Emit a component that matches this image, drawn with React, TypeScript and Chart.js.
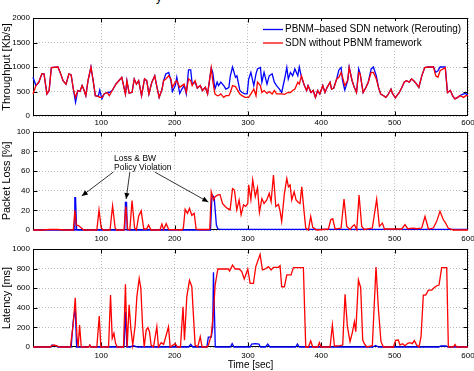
import React, { useEffect, useRef } from "react";
import { Chart, registerables } from "chart.js";

Chart.register(...registerables);

const FONT = "'Liberation Sans', Arial, Helvetica, sans-serif";
Chart.defaults.font.family = FONT;
Chart.defaults.color = "#000";

// ---------- shared data ----------
const timeRange = [7, 600];
const timeTicks = [100, 200, 300, 400, 500, 600];
const timeTitle = "Time [sec]";
const seriesLabels = ["PBNM–based SDN network (Rerouting)", "SDN without PBNM framework"];
const pageTitleTail = "y";

// ---------- panel 1: throughput ----------
const thrTitle = "Throughput [Kb/s]";
const thrTicks = [0, 500, 1000, 1500, 2000];
const thrTime = [
  7, 11, 15, 19, 22, 26, 29, 32, 41, 44,
  48, 52, 56, 59, 62, 65, 68, 71, 74, 76,
  79, 82, 86, 89, 92, 96, 98, 101, 104, 108,
  111, 115, 120, 124, 128, 133, 135, 138, 142, 145,
  148, 151, 155, 159, 162, 165, 169, 173, 176, 179,
  183, 185, 188, 192, 195, 197, 201, 203, 207, 210,
  213, 216, 219, 222, 224, 228, 231, 235, 238, 242,
  245, 250, 252, 255, 258, 260, 263, 267, 270, 274,
  276, 279, 283, 285, 289, 292, 296, 299, 301, 304,
  308, 311, 313, 317, 319, 322, 326, 329, 333, 336,
  339, 343, 346, 350, 353, 355, 358, 361, 364, 368,
  370, 373, 377, 380, 382, 386, 389, 392, 395, 398,
  402, 405, 408, 412, 414, 417, 421, 424, 427, 429,
  432, 436, 438, 442, 445, 448, 451, 453, 457, 461,
  464, 468, 471, 475, 478, 481, 485, 488, 491, 495,
  497, 501, 503, 506, 510, 513, 516, 520, 523, 526,
  530, 533, 537, 541, 546, 553, 556, 559, 562, 569,
  572, 576, 579, 582, 586, 589, 594, 597, 600,
];
const thrBlue = [
  790, 620, 690, 860, 860, 450, 520, 990, 1000, 890,
  720, 650, 860, 840, 550, 280, 520, 500, 620, 550,
  415, 720, 1000, 720, 415, 400, 530, 350, 450, 480,
  480, 520, 650, 720, 790, 450, 720, 470, 480, 755,
  650, 720, 415, 755, 720, 450, 690, 820, 585, 380,
  550, 720, 860, 890, 720, 500, 620, 790, 460, 550,
  620, 450, 940, 940, 650, 690, 570, 620, 520, 585,
  450, 980, 890, 550, 690, 620, 690, 620, 550, 580,
  820, 1000, 790, 820, 520, 480, 450, 450, 750, 890,
  620, 860, 960, 990, 690, 890, 650, 820, 860, 690,
  620, 550, 480, 755, 990, 755, 890, 820, 960, 820,
  1000, 790, 620, 520, 620, 480, 520, 380, 520, 450,
  620, 480, 585, 690, 550, 570, 755, 940, 990, 720,
  530, 720, 1000, 720, 585, 480, 960, 860, 480, 585,
  690, 960, 1000, 820, 585, 450, 415, 380, 435, 550,
  460, 370, 415, 470, 585, 690, 720, 690, 755, 720,
  650, 585, 820, 990, 1000, 1000, 890, 920, 1000, 1000,
  480, 520, 415, 350, 380, 415, 450, 460, 415,
];
const thrRed = [
  450, 620, 690, 860, 860, 450, 520, 990, 1000, 890,
  720, 650, 860, 840, 550, 380, 520, 500, 620, 550,
  415, 720, 1000, 720, 415, 400, 380, 380, 450, 480,
  415, 520, 650, 720, 790, 450, 720, 470, 480, 755,
  650, 720, 415, 755, 720, 450, 690, 820, 585, 380,
  550, 720, 755, 820, 755, 585, 690, 720, 585, 620,
  650, 480, 755, 720, 620, 720, 570, 620, 520, 585,
  450, 980, 720, 450, 415, 415, 450, 380, 415, 415,
  480, 620, 600, 550, 450, 415, 380, 380, 380, 450,
  550, 415, 690, 620, 480, 520, 460, 500, 450, 520,
  450, 450, 450, 440, 470, 480, 480, 520, 550, 690,
  650, 820, 620, 520, 620, 480, 520, 380, 520, 450,
  620, 480, 585, 690, 550, 570, 755, 790, 890, 790,
  620, 730, 990, 720, 585, 480, 890, 860, 480, 585,
  690, 890, 890, 755, 585, 450, 415, 380, 435, 550,
  460, 370, 415, 470, 585, 690, 720, 690, 755, 720,
  650, 585, 820, 990, 1000, 1000, 820, 790, 925, 990,
  480, 520, 415, 350, 380, 415, 380, 415, 415,
];

// ---------- panel 2: packet loss ----------
const lossTitle = "Packet Loss [%]";
const lossTicks = [0, 20, 40, 60, 80, 100];
const lossBlueTime = [7, 63, 64, 65, 66.5, 132, 133, 134.5, 135.5, 249, 251, 254, 257, 259, 262, 600];
const lossBlue = [0, 0, 33, 33, 0, 0, 28, 28, 0, 0, 36, 33, 5, 1, 0.7, 0.7];
const lossRedTime = [
  7, 20, 30, 40, 50, 62, 64, 66, 69, 73,
  76, 94, 97, 100, 103, 112, 115.5, 119, 121, 131,
  133.5, 136, 139, 142, 145.5, 148, 151, 154.5, 158, 162,
  164.5, 168, 180, 182.7, 185, 188.6, 192, 210, 212, 214.4,
  217.6, 220.3, 223.5, 226.7, 229.4, 233, 246, 248, 250, 253,
  255.3, 259, 262, 265.3, 269, 272, 275.7, 279, 281.6, 284.8,
  288, 290.7, 294, 297, 299.8, 301, 304, 306.5, 310, 313,
  315.7, 319, 322, 325.7, 329, 331.6, 334.8, 338, 341.6, 343.8,
  346, 349.7, 353, 355.2, 357.5, 359.7, 363, 365.6, 368.8, 371,
  373.4, 376.5, 378.8, 382.4, 385.6, 388.3, 393.8, 409.7, 412.9, 415.6,
  418.8, 427, 431, 434.7, 439.2, 442.4, 445.1, 448.3, 451.5, 455.1,
  458.7, 469.6, 475.5, 479.2, 483.3, 486, 509.6, 514.1, 517.8, 525.5,
  530, 536.9, 541.4, 546, 552.7, 557.3, 561.8, 566.4, 569.5, 573,
  580, 600,
];
const lossRed = [
  0, 0, 0.5, 0.5, 0, 0, 20, 5, 4.5, 2,
  0, 0, 20.5, 2, 0, 0, 24.5, 2, 0, 0,
  24, 1, 0, 30, 2, 0, 14, 19.5, 1, 1,
  5, 0, 0, 6, 0.5, 6.4, 0.5, 0, 2, 21,
  17, 22, 15, 17, 1, 0.5, 0.5, 1, 39, 30.6,
  34, 35.7, 36, 27, 24, 22, 20.5, 42, 40.7, 20.5,
  30.6, 15.5, 25.6, 24, 27, 46, 31, 51, 34, 43,
  18, 32, 27, 30.6, 37.4, 29, 56, 24, 26, 19.5,
  8.8, 37, 52.5, 44, 45.8, 30.6, 39, 30.6, 28, 27,
  44, 19, 2, 0, 13.8, 2.7, 0, 1, 10.4, 11.4,
  1, 2, 31.6, 3.7, 0.5, 3.7, 5.4, 0.5, 35.7, 3.7,
  0.5, 2, 31.3, 3.7, 7, 1, 1, 5.4, 1.3, 2,
  1.3, 2, 13.8, 1, 2, 8.8, 19, 10.4, 7, 2,
  0, 0,
];
const noteLines = ["Loss & BW", "Policy Violation"];
const noteTime = 117.5;
const noteLevels = [73, 63];
const arrowTailTime = [116.5, 139, 173];
const arrowTailLevel = [59, 59, 59];
const arrowHeadTime = [73.5, 134, 246];
const arrowHeadLevel = [34.7, 31.5, 28.5];

// ---------- panel 3: latency ----------
const latTitle = "Latency [ms]";
const latTicks = [0, 200, 400, 600, 800, 1000];
const latBlueTime = [
  7, 31, 33, 36, 39, 41, 59, 62, 64.6, 66.5,
  83, 84.5, 86, 131, 133, 135, 140, 143, 146, 149,
  219, 222, 225, 244, 246, 250, 252, 253, 255.5, 276,
  278.5, 281, 303, 305, 310, 315, 317, 324, 327, 330,
  365, 367.5, 370, 470, 474, 478, 560, 563, 570, 573,
  600,
];
const latBlue = [
  0, 0, 20, 15, 15, 0, 0, 275, 395, 0,
  0, 20, 0, 0, 360, 0, 0, 15, 10, 0,
  0, 27, 0, 0, 100, 100, 200, 762, 0, 0,
  35, 0, 0, 30, 35, 30, 0, 0, 30, 0,
  0, 30, 0, 0, 15, 0, 0, 10, 10, 0,
  0,
];
const latRedTime = [
  7, 30, 33, 36, 40, 44, 58, 62, 64.6, 67,
  68.5, 70.5, 72.8, 83, 84.5, 86, 94, 97.3, 99.5, 110,
  112.7, 115, 117.3, 119.5, 121.8, 130.4, 133, 135.4, 138, 140.4,
  143, 146.3, 148.6, 151.8, 154, 156.3, 158.6, 161.3, 163.6, 165.8,
  168, 171.3, 175.8, 178, 181.7, 185, 188, 191.7, 194, 200.8,
  204, 208, 211.5, 213.5, 216.7, 220.3, 223.5, 225.8, 228, 231.7,
  235, 237.5, 244, 246.2, 250, 253, 255.3, 259, 266.7, 273.5,
  275, 279, 282.6, 288, 291.6, 295, 299.8, 303, 307.5, 310.7,
  316.6, 319.8, 323.4, 328, 331.6, 334.8, 341.6, 343.8, 346, 349.7,
  353, 358.8, 362, 375.6, 378.8, 382.4, 385.6, 388.3, 395.2, 397.4,
  399.7, 412, 415.1, 417.9, 425.6, 429.2, 432.4, 435.6, 439.2, 442.4,
  445.1, 447, 450.6, 453.7, 456.5, 458.7, 462, 469.6, 474.6, 477.8,
  481.4, 484.6, 498.2, 501.4, 505, 507.3, 510.5, 514.1, 517.8, 521,
  524.1, 526.9, 530, 533.2, 536, 539.1, 542.3, 546, 550.5, 553.7,
  557.3, 560.5, 564.1, 571, 573.2, 580, 582.3, 584.5, 600,
];
const latRed = [
  0, 0, 15, 20, 10, 0, 0, 250, 503, 100,
  0, 224, 0, 0, 20, 0, 0, 316, 0, 0,
  530, 88, 140, 37, 0, 0, 640, 0, 430, 190,
  20, 224, 514, 700, 600, 224, 0, 173, 197, 156,
  20, 0, 207, 0, 44, 27, 105, 207, 0, 34,
  0, 0, 410, 70, 514, 680, 615, 310, 20, 0,
  105, 0, 0, 20, 120, 360, 630, 796, 796, 796,
  775, 836, 796, 796, 770, 694, 796, 650, 650, 820,
  945, 786, 796, 820, 786, 813, 813, 830, 615, 615,
  735, 735, 810, 810, 0, 0, 61, 0, 0, 44,
  0, 0, 224, 10, 13, 20, 537, 207, 54, 150,
  258, 156, 684, 605, 71, 34, 0, 13, 816, 395,
  54, 0, 0, 68, 71, 20, 34, 13, 37, 44,
  34, 65, 20, 0, 105, 530, 530, 580, 580, 605,
  625, 632, 810, 810, 0, 0, 27, 0, 0,
];

// ---------- layout ----------
const CANVAS_W = 500;
const PLOT_LEFT = 33;
const PLOT_RIGHT = 468;
const BLUE = "rgb(0,0,255)";
const RED = "rgb(255,0,0)";

const toPoints = (ts: number[], vs: number[]) =>
  ts.slice(0, Math.min(ts.length, vs.length)).map((t, i) => ({ x: t, y: vs[i] }));

const framePlugin = {
  id: "frame",
  beforeDatasetsDraw(chart: any) {
    const { ctx, chartArea: a, scales } = chart;
    ctx.save();
    ctx.strokeStyle = "#000";
    ctx.lineWidth = 1;
    const l = Math.round(a.left) + 0.5;
    const r = Math.round(a.right) - 0.5;
    const t = Math.round(a.top) + 0.5;
    const b = Math.round(a.bottom) - 0.5;
    ctx.strokeRect(l, t, r - l, b - t);
    ctx.beginPath();
    const tk = 4;
    for (const v of timeTicks) {
      const x = Math.round(scales.x.getPixelForValue(v)) + 0.5;
      if (x > l + 1 && x < r - 1) {
        ctx.moveTo(x, b); ctx.lineTo(x, b - tk);
        ctx.moveTo(x, t); ctx.lineTo(x, t + tk);
      }
    }
    for (const tick of scales.y.ticks) {
      const y = Math.round(scales.y.getPixelForValue(tick.value)) + 0.5;
      if (y > t + 1 && y < b - 1) {
        ctx.moveTo(l, y); ctx.lineTo(l + tk, y);
        ctx.moveTo(r, y); ctx.lineTo(r - tk, y);
      }
    }
    ctx.stroke();
    ctx.restore();
  },
};

const legendPlugin = {
  id: "legendBox",
  afterDatasetsDraw(chart: any) {
    const { ctx, chartArea: a } = chart;
    const x0 = a.right - 205;
    ctx.save();
    ctx.fillStyle = "#fff";
    ctx.fillRect(x0 - 6, a.top + 3, a.right - 2 - (x0 - 6), 30);
    const rows = [a.top + 11.5, a.top + 25];
    const cols = [BLUE, RED];
    ctx.font = `10px ${FONT}`;
    ctx.textBaseline = "middle";
    ctx.textAlign = "left";
    rows.forEach((y, i) => {
      ctx.strokeStyle = cols[i];
      ctx.lineWidth = 1.3;
      ctx.beginPath();
      ctx.moveTo(x0, y);
      ctx.lineTo(x0 + 20, y);
      ctx.stroke();
      ctx.fillStyle = "#000";
      ctx.fillText(seriesLabels[i], x0 + 22, y);
    });
    ctx.restore();
  },
};

const notePlugin = {
  id: "notes",
  afterDatasetsDraw(chart: any) {
    const { ctx, scales } = chart;
    const X = (v: number) => scales.x.getPixelForValue(v);
    const Y = (v: number) => scales.y.getPixelForValue(v);
    ctx.save();
    ctx.fillStyle = "#000";
    ctx.strokeStyle = "#000";
    ctx.font = `8.5px ${FONT}`;
    ctx.textBaseline = "middle";
    ctx.textAlign = "left";
    noteLines.forEach((s, i) => ctx.fillText(s, X(noteTime), Y(noteLevels[i])));
    ctx.lineWidth = 0.8;
    arrowTailTime.forEach((_, i) => {
      const x1 = X(arrowTailTime[i]), y1 = Y(arrowTailLevel[i]);
      const x2 = X(arrowHeadTime[i]), y2 = Y(arrowHeadLevel[i]);
      ctx.beginPath();
      ctx.moveTo(x1, y1);
      ctx.lineTo(x2, y2);
      ctx.stroke();
      const ang = Math.atan2(y2 - y1, x2 - x1);
      const L = 6, W = 2.6;
      ctx.beginPath();
      ctx.moveTo(x2, y2);
      ctx.lineTo(x2 - L * Math.cos(ang) + W * Math.sin(ang), y2 - L * Math.sin(ang) - W * Math.cos(ang));
      ctx.lineTo(x2 - L * Math.cos(ang) - W * Math.sin(ang), y2 - L * Math.sin(ang) + W * Math.cos(ang));
      ctx.closePath();
      ctx.fill();
    });
    ctx.restore();
  },
};

type PanelSpec = {
  top: number;
  height: number;
  padTop: number;
  xHeight: number;
  xPad: number;
  yTitle: string;
  yTicks: number[];
  blue: { x: number; y: number }[];
  red: { x: number; y: number }[];
  xTitle?: string;
  extra?: any[];
};

function buildConfig(p: PanelSpec): any {
  const gridOpts = { color: "#b9b9b9", lineWidth: 1, drawTicks: false };
  const borderOpts = { display: false, dash: [1, 2] };
  return {
    type: "line",
    data: {
      datasets: [
        { label: seriesLabels[0], data: p.blue, borderColor: BLUE, borderWidth: 1.3, pointRadius: 0, tension: 0, order: 1, clip: 3, fill: false },
        { label: seriesLabels[1], data: p.red, borderColor: RED, borderWidth: 1.3, pointRadius: 0, tension: 0, order: 0, clip: 3, fill: false },
      ],
    },
    options: {
      animation: false,
      responsive: false,
      maintainAspectRatio: false,
      parsing: false,
      normalized: true,
      layout: { padding: { top: p.padTop, right: CANVAS_W - PLOT_RIGHT, bottom: 0, left: 0 } },
      plugins: { legend: { display: false }, tooltip: { enabled: false }, title: { display: false } },
      scales: {
        x: {
          type: "linear",
          min: timeRange[0],
          max: timeRange[1],
          afterBuildTicks: (s: any) => { s.ticks = timeTicks.map((v) => ({ value: v })); },
          afterFit: (s: any) => { s.height = p.xHeight; },
          grid: gridOpts,
          border: borderOpts,
          ticks: { font: { size: 8, family: FONT }, color: "#000", padding: p.xPad, maxRotation: 0, autoSkip: false, callback: (v: any) => String(v) },
          title: p.xTitle
            ? { display: true, text: p.xTitle, font: { size: 10, family: FONT }, color: "#000", padding: { top: 0, bottom: 0 } }
            : { display: false },
        },
        y: {
          type: "linear",
          min: p.yTicks[0],
          max: p.yTicks[p.yTicks.length - 1],
          afterBuildTicks: (s: any) => { s.ticks = p.yTicks.map((v) => ({ value: v })); },
          afterFit: (s: any) => { s.width = PLOT_LEFT; },
          grid: gridOpts,
          border: borderOpts,
          ticks: { font: { size: 8, family: FONT }, color: "#000", padding: 3, callback: (v: any) => String(v) },
          title: { display: true, text: p.yTitle, font: { size: 11, family: FONT }, color: "#000", padding: { top: 0, bottom: 0 } },
        },
      },
    },
    plugins: [framePlugin, ...(p.extra || [])],
  };
}

function Panel({ spec }: { spec: PanelSpec }) {
  const ref = useRef<HTMLCanvasElement>(null);
  useEffect(() => {
    if (!ref.current) return;
    const chart = new Chart(ref.current, buildConfig(spec));
    return () => chart.destroy();
  }, []);
  return (
    <canvas
      ref={ref}
      width={CANVAS_W}
      height={spec.height}
      style={{ position: "absolute", left: 0, top: spec.top, width: CANVAS_W, height: spec.height, display: "block" }}
    />
  );
}

const panels: PanelSpec[] = [
  { top: 0, height: 128, padTop: 18, xHeight: 12, xPad: 2, yTitle: thrTitle, yTicks: thrTicks,
    blue: toPoints(thrTime, thrBlue), red: toPoints(thrTime, thrRed), extra: [legendPlugin] },
  { top: 124, height: 122, padTop: 7, xHeight: 16, xPad: 4, yTitle: lossTitle, yTicks: lossTicks,
    blue: toPoints(lossBlueTime, lossBlue), red: toPoints(lossRedTime, lossRed), extra: [notePlugin] },
  { top: 240, height: 131, padTop: 9, xHeight: 24, xPad: 4, yTitle: latTitle, yTicks: latTicks,
    blue: toPoints(latBlueTime, latBlue), red: toPoints(latRedTime, latRed), xTitle: timeTitle },
];

export default function App() {
  return (
    <div style={{ position: "absolute", left: 0, top: 0, width: 474, height: 371, overflow: "hidden", background: "#fff" }}>
      <div style={{ position: "absolute", left: 156, top: -9, fontFamily: FONT, fontSize: 12, lineHeight: "12px", color: "#000" }}>
        {pageTitleTail}
      </div>
      {panels.map((p, i) => (
        <Panel key={i} spec={p} />
      ))}
    </div>
  );
}
